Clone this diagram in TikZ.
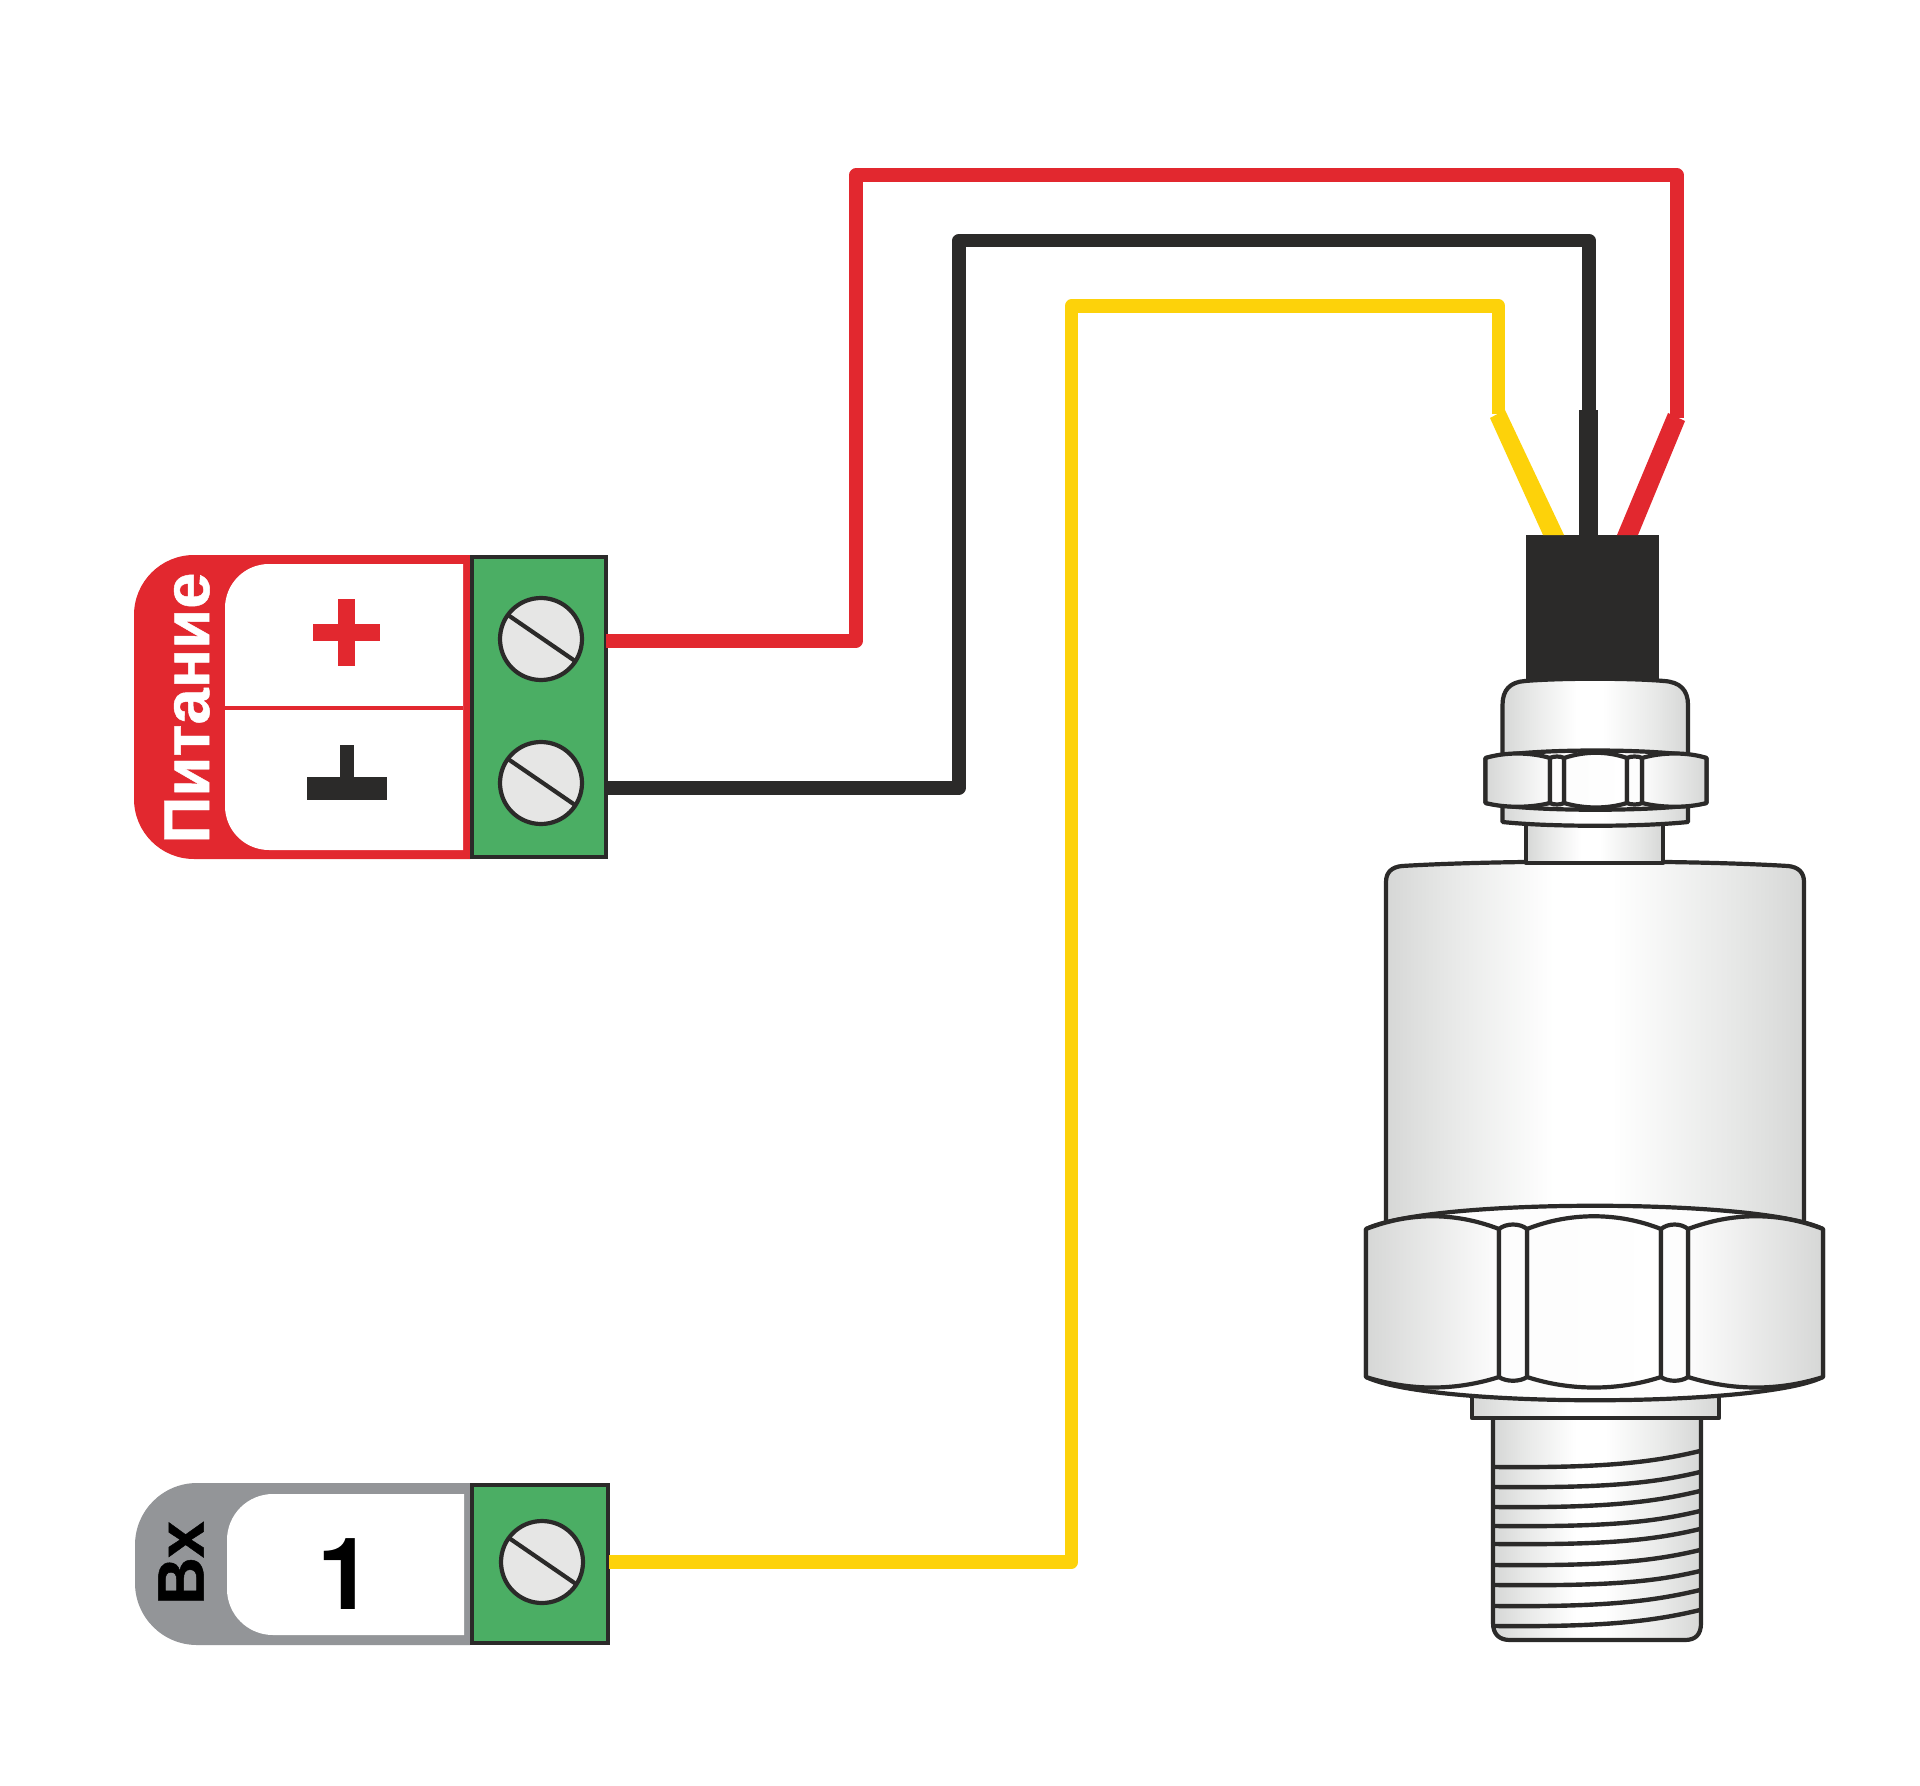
\documentclass[tikz,border=0pt]{standalone}
\usepackage{fontspec}
\setmainfont{Liberation Sans}
\newfontfamily\heros{TeX Gyre Heros}
\newfontfamily\fatfont[BoldFeatures={FakeBold=0.7}]{Liberation Sans}
\definecolor{wred}{HTML}{E2282F}
\definecolor{wyel}{HTML}{FDD20A}
\definecolor{wblk}{HTML}{2B2A29}
\definecolor{tgreen}{HTML}{4BAE64}
\definecolor{tgrey}{HTML}{939598}
\definecolor{screwc}{HTML}{E6E6E5}
\definecolor{metal}{HTML}{D6D7D6}
\definecolor{metalb}{HTML}{E8E9E8}
\pgfdeclarehorizontalshading{metalsh}{100bp}{color(0bp)=(metal); color(25bp)=(metal); color(33bp)=(metalb); color(45bp)=(white); color(52bp)=(white); color(66bp)=(metalb); color(75bp)=(metal); color(100bp)=(metal)}
\tikzset{
  x=0.5pt,y=-0.5pt,
  outl/.style={draw=wblk,line width=2.1pt,line join=round},
  metalbody/.style={outl,shading=metalsh},
  wire/.style={draw=#1,line width=6.6pt,line join=round,line cap=butt},
  termbox/.style={draw=wblk,fill=tgreen,line width=1.9pt,minimum width=68pt,inner sep=0pt,rectangle},
  screwnode/.style={circle,draw=wblk,fill=screwc,line width=2.1pt,minimum size=41pt,inner sep=0pt},
  slot/.style={draw=wblk,line width=2.1pt},
  lab/.style={font=\bfseries,inner sep=0pt,text=white},
}
\begin{document}
\begin{tikzpicture}
\useasboundingbox (0,0) rectangle (1920,1786);
\fill[white] (0,0) rectangle (1920,1786);

% --- label blocks
\fill[wred] (470,555) [rounded corners=30pt] -- (134,555) -- (134,859) [sharp corners] -- (470,859) -- cycle;
\fill[white] (463,564) [rounded corners=22pt] -- (225,564) -- (225,850) [sharp corners] -- (463,850) -- cycle;
\fill[wred] (225,706) rectangle (463,710);
\fill[wred] (338,599) rectangle (355,666);
\fill[wred] (313,624) rectangle (380,641);
\fill[wblk] (340,745) rectangle (354,778);
\fill[wblk] (307,777) rectangle (387,800);
\node[lab,rotate=90,font=\fatfont\bfseries\fontsize{32.6}{36}\selectfont] (lblP) at (187,708) {Питание};

\fill[tgrey] (470,1483) [rounded corners=31pt] -- (135,1483) -- (135,1645) [sharp corners] -- (470,1645) -- cycle;
\fill[white] (464,1494) [rounded corners=23pt] -- (227,1494) -- (227,1635) [sharp corners] -- (464,1635) -- cycle;
\node[lab,rotate=90,text=black,font=\fatfont\bfseries\fontsize{33}{36}\selectfont] (lblV) at (181,1563) {Вх};
\node[lab,text=black,font=\heros\bfseries\fontsize{50}{54}\selectfont] (lblN) at (345,1574) {1};

% --- terminals
\node[termbox,minimum height=150pt,minimum width=67pt] (termP) at (539,707) {};
\node[termbox,minimum height=79pt] (termV) at (540,1564) {};
\node[screwnode] (scrA) at (541,639) {};
\node[screwnode] (scrB) at (541,783) {};
\node[screwnode] (scrC) at (542,1562) {};
\foreach \s in {scrA,scrB,scrC}
  \draw[slot] (\s.center) +(-33,-24) -- +(34,22);

% --- sensor body
\path[metalbody] (1386,1240) -- (1386,882) .. controls (1386,872) and (1392,867) .. (1402,866)
  .. controls (1500,860) and (1690,860) .. (1788,866) .. controls (1798,867) and (1804,872) .. (1804,882) -- (1804,1240) -- cycle;
\path[metalbody] (1526,815) rectangle (1663,863);

% black sleeve
\fill[wblk] (1526,535) rectangle (1659,684);

% upper collar
\path[metalbody] (1502.5,822) -- (1502.5,705) .. controls (1502.5,690) and (1510,682) .. (1525,681)
  .. controls (1560,678) and (1630,678) .. (1664,681) .. controls (1680,682) and (1688,690) .. (1688,705)
  -- (1688,822) .. controls (1640,827) and (1550,827) .. (1502.5,822) -- cycle;

% small nut
\path[outl,fill=white!92!metal] (1485.5,758) .. controls (1530,748) and (1660,748) .. (1706.5,758) -- (1706.5,803)
  .. controls (1660,812) and (1530,812) .. (1485.5,803) -- cycle;
\path[outl,left color=metal,right color=white!94!metal] (1485.5,758) .. controls (1505,752) and (1530,752) .. (1550,758) -- (1550,803) .. controls (1530,808) and (1505,808) .. (1485.5,803) -- cycle;
\path[outl,left color=white!94!metal,right color=white] (1564,758) .. controls (1585,751) and (1607,751) .. (1627,758) -- (1627,803) .. controls (1607,809) and (1585,809) .. (1564,803) -- cycle;
\path[outl,left color=white!94!metal,right color=metal] (1642,758) .. controls (1662,752) and (1688,752) .. (1706.5,758) -- (1706.5,803) .. controls (1688,808) and (1662,808) .. (1642,803) -- cycle;
\path[outl,fill=white!94!metal] (1550,758) .. controls (1553,756) and (1561,756) .. (1564,758) -- (1564,803) .. controls (1561,805) and (1553,805) .. (1550,803) -- cycle;
\path[outl,fill=white!94!metal] (1627,758) .. controls (1630,756) and (1639,756) .. (1642,758) -- (1642,803) .. controls (1639,805) and (1630,805) .. (1627,803) -- cycle;

% flange and thread
\path[metalbody] (1493,1410) -- (1493,1623) .. controls (1493,1634) and (1499,1640) .. (1510,1640) -- (1685,1640) .. controls (1696,1640) and (1701,1634) .. (1701,1623) -- (1701,1410) -- cycle;
\foreach \yl/\yr in {1467/1451,1487/1472,1507/1491,1526/1511,1544/1529,1565/1550,1585/1571,1606/1590,1626/1610}
  \draw[draw=wblk,line width=2.2pt] (1495,\yl) .. controls (1600,\yl+1) and (1650,\yr+12) .. (1700,\yr);
\path[metalbody] (1472,1395) -- (1472,1418) -- (1719,1418) -- (1719,1395) -- cycle;

% big nut
\path[outl,fill=white!94!metal] (1366,1229) .. controls (1430,1198) and (1760,1198) .. (1823,1229) -- (1823,1377)
  .. controls (1760,1408) and (1430,1408) .. (1366,1377) -- cycle;
\path[outl,left color=metal,right color=white!94!metal] (1366,1229) .. controls (1410,1212) and (1455,1212) .. (1499,1229) -- (1499,1377) .. controls (1455,1391) and (1410,1391) .. (1366,1377) -- cycle;
\path[outl,left color=white!94!metal,right color=white] (1527,1229) .. controls (1570,1212) and (1618,1212) .. (1661,1229) -- (1661,1377) .. controls (1618,1391) and (1570,1391) .. (1527,1377) -- cycle;
\path[outl,left color=white!94!metal,right color=metal] (1688,1229) .. controls (1733,1212) and (1779,1212) .. (1823,1229) -- (1823,1377) .. controls (1779,1391) and (1733,1391) .. (1688,1377) -- cycle;
\path[outl,fill=white!94!metal] (1499,1229) .. controls (1506,1223) and (1520,1223) .. (1527,1229) -- (1527,1377) .. controls (1520,1382) and (1506,1382) .. (1499,1377) -- cycle;
\path[outl,fill=white!94!metal] (1661,1229) .. controls (1668,1223) and (1681,1223) .. (1688,1229) -- (1688,1377) .. controls (1681,1382) and (1668,1382) .. (1661,1377) -- cycle;

% --- wires
\coordinate (wp) at (606,641);
\coordinate (wm) at (606,788);
\coordinate (wi) at (609,1562);
\coordinate (rc1) at (856,175);
\coordinate (rc2) at (1677,175);
\coordinate (re) at (1677,418);
\coordinate (bc1) at (959,240.5);
\coordinate (bc2) at (1589,240.5);
\coordinate (be) at (1589,412);
\coordinate (yc1) at (1071.5,306);
\coordinate (yc2) at (1498.5,306);
\coordinate (ye) at (1498.5,414);

\draw[wire=wred] (wp) -| (rc1) -- (rc2) -- (re);
\draw[wire=wblk] (wm) -| (bc1) -- (bc2) -- (be);
\draw[wire=wyel] (wi) -| (yc1) -- (yc2) -- (ye);
\fill[wred] (1668,413) -- (1685,421) -- (1638,535) -- (1617,535) -- cycle;
\fill[wyel] (1490,418) -- (1505,410) -- (1564,535) -- (1543,535) -- cycle;
\fill[wblk] (1579,410) rectangle (1598,536);
\end{tikzpicture}
\end{document}
